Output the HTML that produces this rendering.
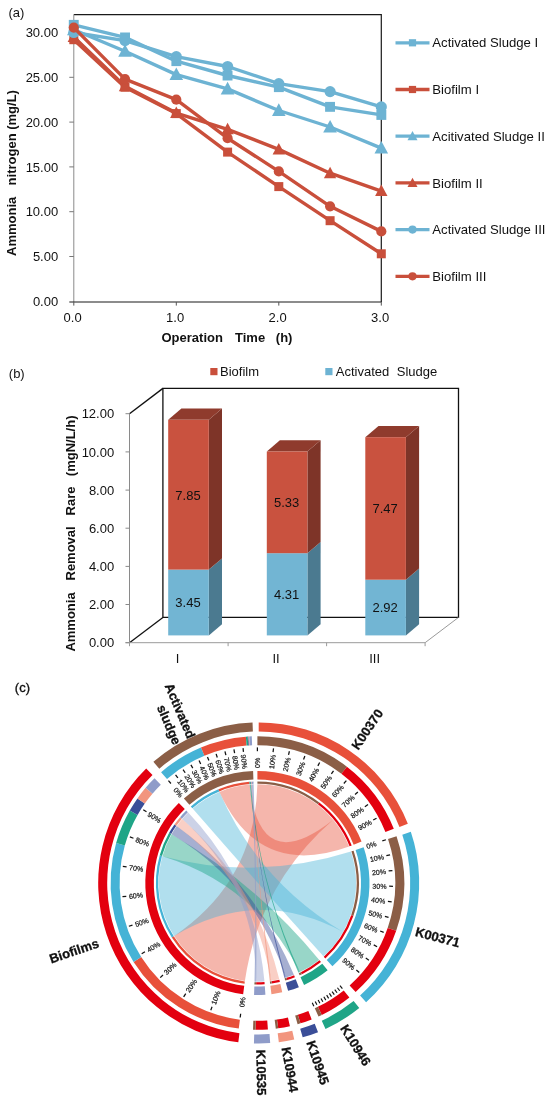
<!DOCTYPE html>
<html lang="en"><head><meta charset="utf-8"><title>Figure</title>
<style>
html,body{margin:0;padding:0;background:#fff}
svg{display:block}
svg text{font-family:"Liberation Sans", sans-serif;fill:#111}
</style></head><body>
<svg width="550" height="1101" viewBox="0 0 550 1101">
<rect width="550" height="1101" fill="#fff"/>
<g id="panel-a"><text x="8.5" y="17.3" font-size="13">(a)</text>
<path d="M73.8 14.6H381.3V302.0" fill="none" stroke="#1a1a1a" stroke-width="1.2"/>
<path d="M73.8 14.6V302.0" fill="none" stroke="#8a8a8a" stroke-width="1"/>
<path d="M69.3 302.0H381.3" fill="none" stroke="#1a1a1a" stroke-width="1.2"/>
<text x="58.2" y="305.9" font-size="13" text-anchor="end">0.00</text>
<path d="M69.3 256.5H73.8" stroke="#777" stroke-width="1"/>
<text x="58.2" y="261.1" font-size="13" text-anchor="end">5.00</text>
<path d="M69.3 211.7H73.8" stroke="#777" stroke-width="1"/>
<text x="58.2" y="216.3" font-size="13" text-anchor="end">10.00</text>
<path d="M69.3 166.9H73.8" stroke="#777" stroke-width="1"/>
<text x="58.2" y="171.5" font-size="13" text-anchor="end">15.00</text>
<path d="M69.3 122.1H73.8" stroke="#777" stroke-width="1"/>
<text x="58.2" y="126.7" font-size="13" text-anchor="end">20.00</text>
<path d="M69.3 77.3H73.8" stroke="#777" stroke-width="1"/>
<text x="58.2" y="81.9" font-size="13" text-anchor="end">25.00</text>
<path d="M69.3 32.5H73.8" stroke="#777" stroke-width="1"/>
<text x="58.2" y="37.1" font-size="13" text-anchor="end">30.00</text>
<path d="M73.8 302.0V305.6" stroke="#555" stroke-width="1"/>
<text x="72.6" y="322.3" font-size="13" text-anchor="middle">0.0</text>
<path d="M176.3 302.0V305.6" stroke="#555" stroke-width="1"/>
<text x="175.1" y="322.3" font-size="13" text-anchor="middle">1.0</text>
<path d="M278.8 302.0V305.6" stroke="#555" stroke-width="1"/>
<text x="277.6" y="322.3" font-size="13" text-anchor="middle">2.0</text>
<path d="M381.3 302.0V305.6" stroke="#555" stroke-width="1"/>
<text x="380.1" y="322.3" font-size="13" text-anchor="middle">3.0</text>
<g font-size="13" font-weight="bold"><text x="161.5" y="341.6">Operation</text><text x="235" y="341.6">Time</text><text x="275.8" y="341.6">(h)</text></g>
<g font-size="13" font-weight="bold" transform="translate(15.6 0) rotate(-90)"><text x="-256" y="0">Ammonia</text><text x="-185.4" y="0">nitrogen (mg/L)</text></g>
<polyline points="73.8,24.9 125.0,37.4 176.3,61.2 227.6,75.5 278.8,87.2 330.1,106.9 381.3,114.9" fill="none" stroke="#6db3d3" stroke-width="3.4" stroke-linejoin="round" stroke-linecap="round"/>
<rect x="68.8" y="19.9" width="9.9" height="9.9" fill="#6db3d3"/>
<rect x="120.1" y="32.5" width="9.9" height="9.9" fill="#6db3d3"/>
<rect x="171.4" y="56.2" width="9.9" height="9.9" fill="#6db3d3"/>
<rect x="222.6" y="70.6" width="9.9" height="9.9" fill="#6db3d3"/>
<rect x="273.9" y="82.2" width="9.9" height="9.9" fill="#6db3d3"/>
<rect x="325.1" y="101.9" width="9.9" height="9.9" fill="#6db3d3"/>
<rect x="376.4" y="110.0" width="9.9" height="9.9" fill="#6db3d3"/>
<path d="M395.5 42.8H429.5" stroke="#6db3d3" stroke-width="3.3"/>
<rect x="408.9" y="39.2" width="7.2" height="7.2" fill="#6db3d3"/>
<text x="432.3" y="47.4" font-size="13.15">Activated Sludge I</text>
<polyline points="73.8,39.7 125.0,87.2 176.3,113.6 227.6,152.1 278.8,186.6 330.1,220.7 381.3,253.8" fill="none" stroke="#c94f3b" stroke-width="3.4" stroke-linejoin="round" stroke-linecap="round"/>
<rect x="69.3" y="35.2" width="9.0" height="9.0" fill="#c94f3b"/>
<rect x="120.5" y="82.7" width="9.0" height="9.0" fill="#c94f3b"/>
<rect x="171.8" y="109.1" width="9.0" height="9.0" fill="#c94f3b"/>
<rect x="223.1" y="147.6" width="9.0" height="9.0" fill="#c94f3b"/>
<rect x="274.3" y="182.1" width="9.0" height="9.0" fill="#c94f3b"/>
<rect x="325.6" y="216.2" width="9.0" height="9.0" fill="#c94f3b"/>
<rect x="376.8" y="249.3" width="9.0" height="9.0" fill="#c94f3b"/>
<path d="M395.5 89.5H429.5" stroke="#c94f3b" stroke-width="3.3"/>
<rect x="408.9" y="85.9" width="7.2" height="7.2" fill="#c94f3b"/>
<text x="432.3" y="94.1" font-size="13.15">Biofilm I</text>
<polyline points="73.8,29.8 125.0,51.3 176.3,74.6 227.6,88.9 278.8,110.5 330.1,127.0 381.3,148.1" fill="none" stroke="#6db3d3" stroke-width="3.4" stroke-linejoin="round" stroke-linecap="round"/>
<path d="M73.8 22.7L80.6 35.3H67.0Z" fill="#6db3d3"/>
<path d="M125.0 44.2L131.9 56.8H118.2Z" fill="#6db3d3"/>
<path d="M176.3 67.5L183.1 80.1H169.5Z" fill="#6db3d3"/>
<path d="M227.6 81.8L234.4 94.4H220.7Z" fill="#6db3d3"/>
<path d="M278.8 103.3L285.6 116.0H272.0Z" fill="#6db3d3"/>
<path d="M330.1 119.9L336.9 132.5H323.2Z" fill="#6db3d3"/>
<path d="M381.3 140.9L388.1 153.6H374.5Z" fill="#6db3d3"/>
<path d="M395.5 136.2H429.5" stroke="#6db3d3" stroke-width="3.3"/>
<path d="M412.5 131.0L417.5 140.2H407.5Z" fill="#6db3d3"/>
<text x="432.3" y="140.8" font-size="13.15">Acitivated Sludge II</text>
<polyline points="73.8,37.0 125.0,86.3 176.3,113.1 227.6,129.3 278.8,149.4 330.1,173.2 381.3,191.1" fill="none" stroke="#c94f3b" stroke-width="3.4" stroke-linejoin="round" stroke-linecap="round"/>
<path d="M73.8 30.5L80.0 42.0H67.6Z" fill="#c94f3b"/>
<path d="M125.0 79.8L131.2 91.3H118.8Z" fill="#c94f3b"/>
<path d="M176.3 106.6L182.5 118.1H170.1Z" fill="#c94f3b"/>
<path d="M227.6 122.8L233.8 134.3H221.4Z" fill="#c94f3b"/>
<path d="M278.8 142.9L285.0 154.4H272.6Z" fill="#c94f3b"/>
<path d="M330.1 166.7L336.2 178.2H323.9Z" fill="#c94f3b"/>
<path d="M381.3 184.6L387.5 196.1H375.1Z" fill="#c94f3b"/>
<path d="M395.5 182.9H429.5" stroke="#c94f3b" stroke-width="3.3"/>
<path d="M412.5 177.7L417.5 186.9H407.5Z" fill="#c94f3b"/>
<text x="432.3" y="187.5" font-size="13.15">Biofilm II</text>
<polyline points="73.8,32.5 125.0,40.6 176.3,56.7 227.6,66.5 278.8,83.6 330.1,91.6 381.3,106.9" fill="none" stroke="#6db3d3" stroke-width="3.4" stroke-linejoin="round" stroke-linecap="round"/>
<circle cx="73.8" cy="32.5" r="5.6" fill="#6db3d3"/>
<circle cx="125.0" cy="40.6" r="5.6" fill="#6db3d3"/>
<circle cx="176.3" cy="56.7" r="5.6" fill="#6db3d3"/>
<circle cx="227.6" cy="66.5" r="5.6" fill="#6db3d3"/>
<circle cx="278.8" cy="83.6" r="5.6" fill="#6db3d3"/>
<circle cx="330.1" cy="91.6" r="5.6" fill="#6db3d3"/>
<circle cx="381.3" cy="106.9" r="5.6" fill="#6db3d3"/>
<path d="M395.5 229.6H429.5" stroke="#6db3d3" stroke-width="3.3"/>
<circle cx="412.5" cy="229.6" r="4.1" fill="#6db3d3"/>
<text x="432.3" y="234.2" font-size="13.15">Activated Sludge III</text>
<polyline points="73.8,27.6 125.0,79.1 176.3,99.7 227.6,138.2 278.8,171.4 330.1,206.3 381.3,231.4" fill="none" stroke="#c94f3b" stroke-width="3.4" stroke-linejoin="round" stroke-linecap="round"/>
<circle cx="73.8" cy="27.6" r="5.1" fill="#c94f3b"/>
<circle cx="125.0" cy="79.1" r="5.1" fill="#c94f3b"/>
<circle cx="176.3" cy="99.7" r="5.1" fill="#c94f3b"/>
<circle cx="227.6" cy="138.2" r="5.1" fill="#c94f3b"/>
<circle cx="278.8" cy="171.4" r="5.1" fill="#c94f3b"/>
<circle cx="330.1" cy="206.3" r="5.1" fill="#c94f3b"/>
<circle cx="381.3" cy="231.4" r="5.1" fill="#c94f3b"/>
<path d="M395.5 276.3H429.5" stroke="#c94f3b" stroke-width="3.3"/>
<circle cx="412.5" cy="276.3" r="4.1" fill="#c94f3b"/>
<text x="432.3" y="280.9" font-size="13.15">Biofilm III</text></g>
<g id="panel-b"><text x="8.8" y="378.2" font-size="13">(b)</text>
<rect x="210.3" y="368" width="7.2" height="7.2" fill="#c94f3b"/><text x="220" y="376.2" font-size="13">Biofilm</text>
<rect x="325.3" y="368" width="7.2" height="7.2" fill="#6db3d3"/><text x="335.8" y="376.2" font-size="13">Activated</text><text x="396.8" y="376.2" font-size="13">Sludge</text>
<path d="M162.9 617.4V388.4H458.5V617.4Z" fill="#fff" stroke="#111" stroke-width="1.3"/>
<path d="M129.5 413.7L162.9 388.4" stroke="#111" stroke-width="1.4" fill="none"/>
<path d="M129.5 642.7L162.9 617.4" stroke="#111" stroke-width="1.3" fill="none"/>
<path d="M129.5 413.7V642.7" stroke="#8a8a8a" stroke-width="1" fill="none"/>
<path d="M125.5 642.7H425.1L458.5 617.4" stroke="#9a9a9a" stroke-width="1" fill="none"/>
<path d="M125.5 642.7H129.5" stroke="#8a8a8a" stroke-width="1"/>
<text x="114.2" y="647.3" font-size="13" text-anchor="end">0.00</text>
<path d="M125.5 604.5H129.5" stroke="#8a8a8a" stroke-width="1"/>
<text x="114.2" y="609.1" font-size="13" text-anchor="end">2.00</text>
<path d="M125.5 566.4H129.5" stroke="#8a8a8a" stroke-width="1"/>
<text x="114.2" y="571.0" font-size="13" text-anchor="end">4.00</text>
<path d="M125.5 528.2H129.5" stroke="#8a8a8a" stroke-width="1"/>
<text x="114.2" y="532.8" font-size="13" text-anchor="end">6.00</text>
<path d="M125.5 490.1H129.5" stroke="#8a8a8a" stroke-width="1"/>
<text x="114.2" y="494.7" font-size="13" text-anchor="end">8.00</text>
<path d="M125.5 451.9H129.5" stroke="#8a8a8a" stroke-width="1"/>
<text x="114.2" y="456.5" font-size="13" text-anchor="end">10.00</text>
<path d="M125.5 413.7H129.5" stroke="#8a8a8a" stroke-width="1"/>
<text x="114.2" y="418.3" font-size="13" text-anchor="end">12.00</text>
<path d="M129.5 642.7V646.2" stroke="#9a9a9a" stroke-width="1"/>
<path d="M228.1 642.7V646.2" stroke="#9a9a9a" stroke-width="1"/>
<path d="M326.6 642.7V646.2" stroke="#9a9a9a" stroke-width="1"/>
<path d="M425.1 642.7V646.2" stroke="#9a9a9a" stroke-width="1"/>
<text x="177.5" y="663" font-size="13" text-anchor="middle">I</text>
<text x="276.0" y="663" font-size="13" text-anchor="middle">II</text>
<text x="374.6" y="663" font-size="13" text-anchor="middle">III</text>
<g font-size="13" font-weight="bold" transform="translate(75.2 0) rotate(-90)"><text x="-651.6" y="0">Ammonia</text><text x="-580.5" y="0">Removal</text><text x="-515.4" y="0">Rare</text><text x="-476.2" y="0">(mgN/L/h)</text></g>
<path d="M208.8 635.4L222.0 624.2V558.4L208.8 569.6Z" fill="#4b7a90"/>
<path d="M208.8 569.6L222.0 558.4V408.6L208.8 419.8Z" fill="#7e3428"/>
<path d="M168.2 419.8L181.4 408.6H222.0L208.8 419.8Z" fill="#8f3b2d"/>
<rect x="168.2" y="569.6" width="40.6" height="65.8" fill="#72b5d3"/>
<rect x="168.2" y="419.8" width="40.6" height="149.8" fill="#c9523f"/>
<text x="188.0" y="607.3" font-size="13" text-anchor="middle" fill="#1a1a1a">3.45</text>
<text x="188.0" y="499.5" font-size="13" text-anchor="middle" fill="#1a1a1a">7.85</text>
<path d="M307.4 635.4L320.6 624.2V542.0L307.4 553.2Z" fill="#4b7a90"/>
<path d="M307.4 553.2L320.6 542.0V440.3L307.4 451.5Z" fill="#7e3428"/>
<path d="M266.8 451.5L279.9 440.3H320.6L307.4 451.5Z" fill="#8f3b2d"/>
<rect x="266.8" y="553.2" width="40.6" height="82.2" fill="#72b5d3"/>
<rect x="266.8" y="451.5" width="40.6" height="101.7" fill="#c9523f"/>
<text x="286.6" y="599.1" font-size="13" text-anchor="middle" fill="#1a1a1a">4.31</text>
<text x="286.6" y="507.1" font-size="13" text-anchor="middle" fill="#1a1a1a">5.33</text>
<path d="M405.9 635.4L419.1 624.2V568.5L405.9 579.7Z" fill="#4b7a90"/>
<path d="M405.9 579.7L419.1 568.5V426.0L405.9 437.2Z" fill="#7e3428"/>
<path d="M365.3 437.2L378.5 426.0H419.1L405.9 437.2Z" fill="#8f3b2d"/>
<rect x="365.3" y="579.7" width="40.6" height="55.7" fill="#72b5d3"/>
<rect x="365.3" y="437.2" width="40.6" height="142.5" fill="#c9523f"/>
<text x="385.1" y="612.3" font-size="13" text-anchor="middle" fill="#1a1a1a">2.92</text>
<text x="385.1" y="513.2" font-size="13" text-anchor="middle" fill="#1a1a1a">7.47</text></g>
<g id="panel-c"><text x="14.8" y="691.5" font-size="13" stroke="#111" stroke-width="0.35">(c)</text>
<path d="M257.40 784.30A98.7 98.7 0 0 1 333.23 819.82Q259.30 884.04 244.86 980.90A98.7 98.7 0 0 1 174.16 936.03Q254.90 881.63 257.40 784.30Z" fill="#e8503a" fill-opacity="0.42"/>
<path d="M350.94 851.52A98.7 98.7 0 0 1 343.13 931.90Q257.47 886.06 174.16 936.03A98.7 98.7 0 0 1 162.43 856.13Q257.36 881.25 350.94 851.52Z" fill="#45b3d6" fill-opacity="0.42"/>
<path d="M343.13 931.90A98.7 98.7 0 0 1 323.44 956.35Q257.44 882.97 192.65 808.51A98.7 98.7 0 0 1 219.47 791.88Q258.83 881.73 343.13 931.90Z" fill="#45b3d6" fill-opacity="0.42"/>
<path d="M333.23 819.82A98.7 98.7 0 0 1 349.11 846.51Q259.01 879.17 219.47 791.88A98.7 98.7 0 0 1 249.66 784.60Q259.44 878.15 333.23 819.82Z" fill="#e8503a" fill-opacity="0.42"/>
<path d="M319.25 959.92A98.7 98.7 0 0 1 299.89 972.09Q255.83 884.87 162.43 856.13A98.7 98.7 0 0 1 171.58 834.25Q256.68 883.85 319.25 959.92Z" fill="#1fa587" fill-opacity="0.46"/>
<path d="M293.89 974.71A98.7 98.7 0 0 1 285.76 977.54Q255.68 884.37 171.58 834.25A98.7 98.7 0 0 1 176.75 826.11Q256.08 884.04 293.89 974.71Z" fill="#3a4e98" fill-opacity="0.45"/>
<path d="M279.27 979.25A98.7 98.7 0 0 1 271.14 980.74Q255.39 884.23 176.75 826.11A98.7 98.7 0 0 1 182.24 819.03Q255.80 883.97 279.27 979.25Z" fill="#f2957e" fill-opacity="0.45"/>
<path d="M264.46 981.45A98.7 98.7 0 0 1 256.19 981.69Q255.11 884.04 182.24 819.03A98.7 98.7 0 0 1 188.22 812.60Q255.54 883.84 264.46 981.45Z" fill="#8f9cc9" fill-opacity="0.45"/>
<path d="M299.89 972.09A98.7 98.7 0 0 1 298.49 972.74Q258.40 882.74 249.66 784.60A98.7 98.7 0 0 1 250.86 784.52Q258.48 882.72 299.89 972.09Z" fill="#1fa587" fill-opacity="0.7"/>
<path d="M285.76 977.54A98.7 98.7 0 0 1 284.44 977.92Q258.01 882.89 250.86 784.52A98.7 98.7 0 0 1 251.37 784.48Q258.07 882.88 285.76 977.54Z" fill="#3a4e98" fill-opacity="0.7"/>
<path d="M271.14 980.74A98.7 98.7 0 0 1 269.77 980.92Q257.59 882.98 251.37 784.48A98.7 98.7 0 0 1 251.89 784.45Q257.65 882.98 271.14 980.74Z" fill="#f2957e" fill-opacity="0.7"/>
<path d="M256.19 981.69A98.7 98.7 0 0 1 254.47 981.66Q257.15 883.00 251.89 784.45A98.7 98.7 0 0 1 253.61 784.37Q257.25 883.00 256.19 981.69Z" fill="#8f9cc9" fill-opacity="0.7"/>
<path d="M258.70 722.50A160.5 160.5 0 0 1 407.83 823.66L399.46 826.98A151.5 151.5 0 0 0 258.70 731.50Z" fill="#e8503a" />
<path d="M257.40 770.90A112.1 112.1 0 0 1 361.56 841.55L353.66 844.69A103.6 103.6 0 0 0 257.40 779.40Z" fill="#e8503a" />
<path d="M410.82 831.81A160.5 160.5 0 0 1 366.10 1002.27L360.07 995.59A151.5 151.5 0 0 0 402.29 834.68Z" fill="#45b3d6" />
<path d="M363.64 847.24A112.1 112.1 0 0 1 332.41 966.31L326.72 959.99A103.6 103.6 0 0 0 355.59 849.96Z" fill="#45b3d6" />
<path d="M359.27 1008.08A160.5 160.5 0 0 1 325.51 1028.93L321.77 1020.75A151.5 151.5 0 0 0 353.63 1001.07Z" fill="#1fa587" />
<path d="M327.64 970.36A112.1 112.1 0 0 1 304.07 984.93L300.53 977.20A103.6 103.6 0 0 0 322.32 963.74Z" fill="#1fa587" />
<path d="M318.04 1032.13A160.5 160.5 0 0 1 302.67 1037.36L300.20 1028.70A151.5 151.5 0 0 0 314.72 1023.76Z" fill="#3a4e98" />
<path d="M298.85 987.16A112.1 112.1 0 0 1 288.11 990.81L285.78 982.64A103.6 103.6 0 0 0 295.71 979.26Z" fill="#3a4e98" />
<path d="M294.26 1039.51A160.5 160.5 0 0 1 278.82 1042.23L277.69 1033.31A151.5 151.5 0 0 0 292.26 1030.74Z" fill="#f2957e" />
<path d="M282.24 992.31A112.1 112.1 0 0 1 271.45 994.22L270.38 985.78A103.6 103.6 0 0 0 280.35 984.03Z" fill="#f2957e" />
<path d="M270.18 1043.09A160.5 160.5 0 0 1 253.94 1043.43L254.21 1034.43A151.5 151.5 0 0 0 269.53 1034.11Z" fill="#8f9cc9" />
<path d="M265.41 994.81A112.1 112.1 0 0 1 254.07 995.05L254.33 986.55A103.6 103.6 0 0 0 264.81 986.33Z" fill="#8f9cc9" />
<path d="M238.31 1042.20A160.5 160.5 0 0 1 146.20 768.52L152.51 774.94A151.5 151.5 0 0 0 239.45 1033.27Z" fill="#e3000f" />
<path d="M243.16 994.19A112.1 112.1 0 0 1 178.83 803.04L184.79 809.11A103.6 103.6 0 0 0 244.24 985.76Z" fill="#e3000f" />
<path d="M153.40 761.87A160.5 160.5 0 0 1 252.54 722.62L252.88 731.61A151.5 151.5 0 0 0 159.31 768.66Z" fill="#8b5e46" />
<path d="M183.86 798.40A112.1 112.1 0 0 1 253.10 770.98L253.42 779.48A103.6 103.6 0 0 0 189.43 804.81Z" fill="#8b5e46" />
<path d="M257.40 736.20A146.8 146.8 0 0 1 346.90 766.64L341.41 773.77A137.8 137.8 0 0 0 257.40 745.20Z" fill="#8b5e46" />
<path d="M257.40 781.50A101.5 101.5 0 0 1 319.28 802.54L317.88 804.37A99.2 99.2 0 0 0 257.40 783.80Z" fill="#8b5e46" />
<path d="M346.90 766.64A146.8 146.8 0 0 1 393.80 828.72L385.43 832.05A137.8 137.8 0 0 0 341.41 773.77Z" fill="#e3000f" />
<path d="M319.28 802.54A101.5 101.5 0 0 1 351.71 845.47L349.57 846.32A99.2 99.2 0 0 0 317.88 804.37Z" fill="#e3000f" />
<path d="M396.53 836.18A146.8 146.8 0 0 1 396.18 930.86L387.67 927.93A137.8 137.8 0 0 0 388.00 839.05Z" fill="#8b5e46" />
<path d="M353.60 850.63A101.5 101.5 0 0 1 353.35 916.09L351.18 915.34A99.2 99.2 0 0 0 351.42 851.36Z" fill="#8b5e46" />
<path d="M396.18 930.86A146.8 146.8 0 0 1 355.63 992.09L349.61 985.41A137.8 137.8 0 0 0 387.67 927.93Z" fill="#e3000f" />
<path d="M353.35 916.09A101.5 101.5 0 0 1 325.32 958.43L323.78 956.72A99.2 99.2 0 0 0 351.18 915.34Z" fill="#e3000f" />
<path d="M349.39 997.41A146.8 146.8 0 0 1 321.80 1014.92L317.85 1006.83A137.8 137.8 0 0 0 343.75 990.39Z" fill="#e3000f" />
<path d="M321.00 962.10A101.5 101.5 0 0 1 301.93 974.21L300.92 972.15A99.2 99.2 0 0 0 319.56 960.31Z" fill="#e3000f" />
<path d="M321.80 1014.92A146.8 146.8 0 0 1 318.51 1016.48L314.76 1008.29A137.8 137.8 0 0 0 317.85 1006.83Z" fill="#8b5e46" />
<path d="M301.93 974.21A101.5 101.5 0 0 1 299.65 975.29L298.70 973.20A99.2 99.2 0 0 0 300.92 972.15Z" fill="#8b5e46" />
<path d="M311.68 1019.40A146.8 146.8 0 0 1 300.47 1023.34L297.83 1014.74A137.8 137.8 0 0 0 308.35 1011.03Z" fill="#e3000f" />
<path d="M294.93 977.31A101.5 101.5 0 0 1 287.18 980.03L286.50 977.84A99.2 99.2 0 0 0 294.08 975.17Z" fill="#e3000f" />
<path d="M300.47 1023.34A146.8 146.8 0 0 1 297.62 1024.18L295.15 1015.53A137.8 137.8 0 0 0 297.83 1014.74Z" fill="#8b5e46" />
<path d="M287.18 980.03A101.5 101.5 0 0 1 285.21 980.62L284.58 978.40A99.2 99.2 0 0 0 286.50 977.84Z" fill="#8b5e46" />
<path d="M289.92 1026.15A146.8 146.8 0 0 1 278.22 1028.32L276.94 1019.41A137.8 137.8 0 0 0 287.93 1017.38Z" fill="#e3000f" />
<path d="M279.89 981.98A101.5 101.5 0 0 1 271.79 983.47L271.47 981.20A99.2 99.2 0 0 0 279.38 979.73Z" fill="#e3000f" />
<path d="M278.22 1028.32A146.8 146.8 0 0 1 275.80 1028.64L274.67 1019.71A137.8 137.8 0 0 0 276.94 1019.41Z" fill="#8b5e46" />
<path d="M271.79 983.47A101.5 101.5 0 0 1 270.12 983.70L269.83 981.42A99.2 99.2 0 0 0 271.47 981.20Z" fill="#8b5e46" />
<path d="M267.90 1029.42A146.8 146.8 0 0 1 255.57 1029.79L255.68 1020.79A137.8 137.8 0 0 0 267.25 1020.45Z" fill="#e3000f" />
<path d="M264.66 984.24A101.5 101.5 0 0 1 256.14 984.49L256.16 982.19A99.2 99.2 0 0 0 264.49 981.95Z" fill="#e3000f" />
<path d="M255.57 1029.79A146.8 146.8 0 0 1 253.04 1029.74L253.31 1020.74A137.8 137.8 0 0 0 255.68 1020.79Z" fill="#8b5e46" />
<path d="M256.14 984.49A101.5 101.5 0 0 1 254.39 984.46L254.46 982.16A99.2 99.2 0 0 0 256.16 982.19Z" fill="#8b5e46" />
<path d="M238.75 1028.61A146.8 146.8 0 0 1 133.59 961.88L141.18 957.04A137.8 137.8 0 0 0 239.89 1019.68Z" fill="#e8503a" />
<path d="M244.50 983.68A101.5 101.5 0 0 1 171.80 937.54L173.74 936.30A99.2 99.2 0 0 0 244.80 981.40Z" fill="#e8503a" />
<path d="M133.59 961.88A146.8 146.8 0 0 1 116.15 843.03L124.81 845.48A137.8 137.8 0 0 0 141.18 957.04Z" fill="#45b3d6" />
<path d="M171.80 937.54A101.5 101.5 0 0 1 159.73 855.36L161.95 855.99A99.2 99.2 0 0 0 173.74 936.30Z" fill="#45b3d6" />
<path d="M116.15 843.03A146.8 146.8 0 0 1 129.76 810.49L137.58 814.93A137.8 137.8 0 0 0 124.81 845.48Z" fill="#1fa587" />
<path d="M159.73 855.36A101.5 101.5 0 0 1 169.15 832.86L171.15 834.00A99.2 99.2 0 0 0 161.95 855.99Z" fill="#1fa587" />
<path d="M129.76 810.49A146.8 146.8 0 0 1 137.44 798.38L144.80 803.57A137.8 137.8 0 0 0 137.58 814.93Z" fill="#3a4e98" />
<path d="M169.15 832.86A101.5 101.5 0 0 1 174.46 824.49L176.34 825.82A99.2 99.2 0 0 0 171.15 834.00Z" fill="#3a4e98" />
<path d="M137.44 798.38A146.8 146.8 0 0 1 145.61 787.86L152.46 793.69A137.8 137.8 0 0 0 144.80 803.57Z" fill="#f2957e" />
<path d="M174.46 824.49A101.5 101.5 0 0 1 180.10 817.22L181.86 818.71A99.2 99.2 0 0 0 176.34 825.82Z" fill="#f2957e" />
<path d="M145.61 787.86A146.8 146.8 0 0 1 154.51 778.29L160.81 784.71A137.8 137.8 0 0 0 152.46 793.69Z" fill="#8f9cc9" />
<path d="M180.10 817.22A101.5 101.5 0 0 1 186.26 810.61L187.87 812.25A99.2 99.2 0 0 0 181.86 818.71Z" fill="#8f9cc9" />
<path d="M161.09 772.21A146.8 146.8 0 0 1 200.99 747.47L204.44 755.78A137.8 137.8 0 0 0 167.00 779.00Z" fill="#45b3d6" />
<path d="M190.81 806.40A101.5 101.5 0 0 1 218.39 789.29L219.28 791.42A99.2 99.2 0 0 0 192.32 808.13Z" fill="#45b3d6" />
<path d="M200.99 747.47A146.8 146.8 0 0 1 245.88 736.65L246.59 745.62A137.8 137.8 0 0 0 204.44 755.78Z" fill="#e8503a" />
<path d="M218.39 789.29A101.5 101.5 0 0 1 249.44 781.81L249.62 784.11A99.2 99.2 0 0 0 219.28 791.42Z" fill="#e8503a" />
<path d="M245.88 736.65A146.8 146.8 0 0 1 247.67 736.52L248.27 745.50A137.8 137.8 0 0 0 246.59 745.62Z" fill="#1fa587" />
<path d="M249.44 781.81A101.5 101.5 0 0 1 250.67 781.72L250.83 784.02A99.2 99.2 0 0 0 249.62 784.11Z" fill="#1fa587" />
<path d="M247.67 736.52A146.8 146.8 0 0 1 248.44 736.47L248.99 745.46A137.8 137.8 0 0 0 248.27 745.50Z" fill="#3a4e98" />
<path d="M250.67 781.72A101.5 101.5 0 0 1 251.20 781.69L251.34 783.99A99.2 99.2 0 0 0 250.83 784.02Z" fill="#3a4e98" />
<path d="M248.44 736.47A146.8 146.8 0 0 1 249.21 736.43L249.71 745.41A137.8 137.8 0 0 0 248.99 745.46Z" fill="#f2957e" />
<path d="M251.20 781.69A101.5 101.5 0 0 1 251.73 781.66L251.86 783.95A99.2 99.2 0 0 0 251.34 783.99Z" fill="#f2957e" />
<path d="M249.21 736.43A146.8 146.8 0 0 1 251.76 736.31L252.11 745.30A137.8 137.8 0 0 0 249.71 745.41Z" fill="#8f9cc9" />
<path d="M251.73 781.66A101.5 101.5 0 0 1 253.50 781.57L253.59 783.87A99.2 99.2 0 0 0 251.86 783.95Z" fill="#8f9cc9" />
<path d="M257.40 751.20L257.40 747.40" stroke="#111" stroke-width="1.25"/>
<text transform="translate(257.40 768.00) rotate(-90.00)" x="0" y="2.9" font-size="7.1" text-anchor="start" fill="#1a1a1a" stroke="#1a1a1a" stroke-width="0.2">0%</text>
<path d="M273.07 752.14L273.53 748.36" stroke="#111" stroke-width="1.25"/>
<text transform="translate(271.08 768.82) rotate(-83.17)" x="0" y="2.9" font-size="7.1" text-anchor="start" fill="#1a1a1a" stroke="#1a1a1a" stroke-width="0.2">10%</text>
<path d="M288.53 754.93L289.42 751.24" stroke="#111" stroke-width="1.25"/>
<text transform="translate(284.56 771.25) rotate(-76.34)" x="0" y="2.9" font-size="7.1" text-anchor="start" fill="#1a1a1a" stroke="#1a1a1a" stroke-width="0.2">20%</text>
<path d="M303.54 759.54L304.87 755.98" stroke="#111" stroke-width="1.25"/>
<text transform="translate(297.66 775.28) rotate(-69.51)" x="0" y="2.9" font-size="7.1" text-anchor="start" fill="#1a1a1a" stroke="#1a1a1a" stroke-width="0.2">30%</text>
<path d="M317.89 765.90L319.63 762.53" stroke="#111" stroke-width="1.25"/>
<text transform="translate(310.18 780.83) rotate(-62.68)" x="0" y="2.9" font-size="7.1" text-anchor="start" fill="#1a1a1a" stroke="#1a1a1a" stroke-width="0.2">40%</text>
<path d="M331.39 773.93L333.52 770.78" stroke="#111" stroke-width="1.25"/>
<text transform="translate(321.96 787.83) rotate(-55.85)" x="0" y="2.9" font-size="7.1" text-anchor="start" fill="#1a1a1a" stroke="#1a1a1a" stroke-width="0.2">50%</text>
<path d="M343.83 783.50L346.33 780.63" stroke="#111" stroke-width="1.25"/>
<text transform="translate(332.82 796.18) rotate(-49.02)" x="0" y="2.9" font-size="7.1" text-anchor="start" fill="#1a1a1a" stroke="#1a1a1a" stroke-width="0.2">60%</text>
<path d="M355.05 794.48L357.87 791.93" stroke="#111" stroke-width="1.25"/>
<text transform="translate(342.61 805.77) rotate(-42.19)" x="0" y="2.9" font-size="7.1" text-anchor="start" fill="#1a1a1a" stroke="#1a1a1a" stroke-width="0.2">70%</text>
<path d="M364.89 806.73L367.99 804.53" stroke="#111" stroke-width="1.25"/>
<text transform="translate(351.19 816.45) rotate(-35.36)" x="0" y="2.9" font-size="7.1" text-anchor="start" fill="#1a1a1a" stroke="#1a1a1a" stroke-width="0.2">80%</text>
<path d="M373.20 820.05L376.53 818.23" stroke="#111" stroke-width="1.25"/>
<text transform="translate(358.44 828.07) rotate(-28.53)" x="0" y="2.9" font-size="7.1" text-anchor="start" fill="#1a1a1a" stroke="#1a1a1a" stroke-width="0.2">90%</text>
<path d="M382.32 840.96L385.92 839.75" stroke="#111" stroke-width="1.25"/>
<text transform="translate(366.39 846.32) rotate(-18.60)" x="0" y="2.9" font-size="7.1" text-anchor="start" fill="#1a1a1a" stroke="#1a1a1a" stroke-width="0.2">0%</text>
<path d="M386.35 855.73L390.07 854.95" stroke="#111" stroke-width="1.25"/>
<text transform="translate(369.91 859.21) rotate(-11.94)" x="0" y="2.9" font-size="7.1" text-anchor="start" fill="#1a1a1a" stroke="#1a1a1a" stroke-width="0.2">10%</text>
<path d="M388.64 870.87L392.42 870.52" stroke="#111" stroke-width="1.25"/>
<text transform="translate(371.91 872.42) rotate(-5.28)" x="0" y="2.9" font-size="7.1" text-anchor="start" fill="#1a1a1a" stroke="#1a1a1a" stroke-width="0.2">20%</text>
<path d="M389.16 886.17L392.96 886.27" stroke="#111" stroke-width="1.25"/>
<text transform="translate(372.37 885.77) rotate(1.38)" x="0" y="2.9" font-size="7.1" text-anchor="start" fill="#1a1a1a" stroke="#1a1a1a" stroke-width="0.2">30%</text>
<path d="M387.90 901.43L391.67 901.97" stroke="#111" stroke-width="1.25"/>
<text transform="translate(371.27 899.08) rotate(8.04)" x="0" y="2.9" font-size="7.1" text-anchor="start" fill="#1a1a1a" stroke="#1a1a1a" stroke-width="0.2">40%</text>
<path d="M384.89 916.45L388.56 917.41" stroke="#111" stroke-width="1.25"/>
<text transform="translate(368.64 912.18) rotate(14.70)" x="0" y="2.9" font-size="7.1" text-anchor="start" fill="#1a1a1a" stroke="#1a1a1a" stroke-width="0.2">50%</text>
<path d="M380.15 931.01L383.69 932.39" stroke="#111" stroke-width="1.25"/>
<text transform="translate(364.50 924.89) rotate(21.36)" x="0" y="2.9" font-size="7.1" text-anchor="start" fill="#1a1a1a" stroke="#1a1a1a" stroke-width="0.2">60%</text>
<path d="M373.75 944.92L377.11 946.70" stroke="#111" stroke-width="1.25"/>
<text transform="translate(358.92 937.02) rotate(28.02)" x="0" y="2.9" font-size="7.1" text-anchor="start" fill="#1a1a1a" stroke="#1a1a1a" stroke-width="0.2">70%</text>
<path d="M365.78 957.99L368.91 960.16" stroke="#111" stroke-width="1.25"/>
<text transform="translate(351.97 948.43) rotate(34.68)" x="0" y="2.9" font-size="7.1" text-anchor="start" fill="#1a1a1a" stroke="#1a1a1a" stroke-width="0.2">80%</text>
<path d="M356.36 970.06L359.21 972.57" stroke="#111" stroke-width="1.25"/>
<text transform="translate(343.74 958.96) rotate(41.34)" x="0" y="2.9" font-size="7.1" text-anchor="start" fill="#1a1a1a" stroke="#1a1a1a" stroke-width="0.2">90%</text>
<path d="M240.65 1013.73L240.17 1017.50" stroke="#111" stroke-width="1.25"/>
<text transform="translate(242.79 997.07) rotate(-82.70)" x="0" y="2.9" font-size="7.1" text-anchor="end" fill="#1a1a1a" stroke="#1a1a1a" stroke-width="0.2">0%</text>
<path d="M212.06 1006.76L210.76 1010.32" stroke="#111" stroke-width="1.25"/>
<text transform="translate(217.84 990.98) rotate(-69.88)" x="0" y="2.9" font-size="7.1" text-anchor="end" fill="#1a1a1a" stroke="#1a1a1a" stroke-width="0.2">10%</text>
<path d="M185.73 993.61L183.67 996.80" stroke="#111" stroke-width="1.25"/>
<text transform="translate(194.87 979.51) rotate(-57.06)" x="0" y="2.9" font-size="7.1" text-anchor="end" fill="#1a1a1a" stroke="#1a1a1a" stroke-width="0.2">20%</text>
<path d="M162.98 974.95L160.25 977.60" stroke="#111" stroke-width="1.25"/>
<text transform="translate(175.01 963.23) rotate(-44.24)" x="0" y="2.9" font-size="7.1" text-anchor="end" fill="#1a1a1a" stroke="#1a1a1a" stroke-width="0.2">30%</text>
<path d="M144.93 951.71L141.68 953.69" stroke="#111" stroke-width="1.25"/>
<text transform="translate(159.26 942.95) rotate(-31.42)" x="0" y="2.9" font-size="7.1" text-anchor="end" fill="#1a1a1a" stroke="#1a1a1a" stroke-width="0.2">40%</text>
<path d="M132.48 925.04L128.88 926.25" stroke="#111" stroke-width="1.25"/>
<text transform="translate(148.41 919.68) rotate(-18.60)" x="0" y="2.9" font-size="7.1" text-anchor="end" fill="#1a1a1a" stroke="#1a1a1a" stroke-width="0.2">50%</text>
<path d="M126.27 896.27L122.49 896.66" stroke="#111" stroke-width="1.25"/>
<text transform="translate(142.98 894.58) rotate(-5.78)" x="0" y="2.9" font-size="7.1" text-anchor="end" fill="#1a1a1a" stroke="#1a1a1a" stroke-width="0.2">60%</text>
<path d="M126.59 866.85L122.82 866.38" stroke="#111" stroke-width="1.25"/>
<text transform="translate(143.27 868.91) rotate(7.04)" x="0" y="2.9" font-size="7.1" text-anchor="end" fill="#1a1a1a" stroke="#1a1a1a" stroke-width="0.2">70%</text>
<path d="M133.44 838.22L129.86 836.93" stroke="#111" stroke-width="1.25"/>
<text transform="translate(149.24 843.93) rotate(19.86)" x="0" y="2.9" font-size="7.1" text-anchor="end" fill="#1a1a1a" stroke="#1a1a1a" stroke-width="0.2">80%</text>
<path d="M146.46 811.84L143.27 809.78" stroke="#111" stroke-width="1.25"/>
<text transform="translate(160.60 820.91) rotate(32.68)" x="0" y="2.9" font-size="7.1" text-anchor="end" fill="#1a1a1a" stroke="#1a1a1a" stroke-width="0.2">90%</text>
<path d="M170.93 783.53L168.44 780.66" stroke="#111" stroke-width="1.25"/>
<text transform="translate(181.95 796.21) rotate(49.00)" x="0" y="2.9" font-size="7.1" text-anchor="end" fill="#1a1a1a" stroke="#1a1a1a" stroke-width="0.2">0%</text>
<path d="M177.86 777.91L175.57 774.88" stroke="#111" stroke-width="1.25"/>
<text transform="translate(188.00 791.30) rotate(52.88)" x="0" y="2.9" font-size="7.1" text-anchor="end" fill="#1a1a1a" stroke="#1a1a1a" stroke-width="0.2">10%</text>
<path d="M185.15 772.76L183.07 769.59" stroke="#111" stroke-width="1.25"/>
<text transform="translate(194.36 786.82) rotate(56.76)" x="0" y="2.9" font-size="7.1" text-anchor="end" fill="#1a1a1a" stroke="#1a1a1a" stroke-width="0.2">20%</text>
<path d="M192.78 768.13L190.92 764.82" stroke="#111" stroke-width="1.25"/>
<text transform="translate(201.02 782.77) rotate(60.64)" x="0" y="2.9" font-size="7.1" text-anchor="end" fill="#1a1a1a" stroke="#1a1a1a" stroke-width="0.2">30%</text>
<path d="M200.70 764.02L199.07 760.59" stroke="#111" stroke-width="1.25"/>
<text transform="translate(207.93 779.19) rotate(64.52)" x="0" y="2.9" font-size="7.1" text-anchor="end" fill="#1a1a1a" stroke="#1a1a1a" stroke-width="0.2">40%</text>
<path d="M208.88 760.46L207.48 756.92" stroke="#111" stroke-width="1.25"/>
<text transform="translate(215.07 776.08) rotate(68.40)" x="0" y="2.9" font-size="7.1" text-anchor="end" fill="#1a1a1a" stroke="#1a1a1a" stroke-width="0.2">50%</text>
<path d="M217.28 757.45L216.13 753.83" stroke="#111" stroke-width="1.25"/>
<text transform="translate(222.40 773.46) rotate(72.28)" x="0" y="2.9" font-size="7.1" text-anchor="end" fill="#1a1a1a" stroke="#1a1a1a" stroke-width="0.2">60%</text>
<path d="M225.87 755.03L224.96 751.34" stroke="#111" stroke-width="1.25"/>
<text transform="translate(229.89 771.34) rotate(76.16)" x="0" y="2.9" font-size="7.1" text-anchor="end" fill="#1a1a1a" stroke="#1a1a1a" stroke-width="0.2">70%</text>
<path d="M234.60 753.19L233.95 749.44" stroke="#111" stroke-width="1.25"/>
<text transform="translate(237.51 769.73) rotate(80.04)" x="0" y="2.9" font-size="7.1" text-anchor="end" fill="#1a1a1a" stroke="#1a1a1a" stroke-width="0.2">80%</text>
<path d="M243.44 751.94L243.04 748.16" stroke="#111" stroke-width="1.25"/>
<text transform="translate(245.22 768.65) rotate(83.92)" x="0" y="2.9" font-size="7.1" text-anchor="end" fill="#1a1a1a" stroke="#1a1a1a" stroke-width="0.2">90%</text>
<path d="M339.99 985.72L342.37 988.68" stroke="#111" stroke-width="1.15"/>
<path d="M337.42 987.73L339.72 990.75" stroke="#111" stroke-width="1.15"/>
<path d="M334.80 989.68L337.03 992.76" stroke="#111" stroke-width="1.15"/>
<path d="M332.13 991.57L334.28 994.70" stroke="#111" stroke-width="1.15"/>
<path d="M329.41 993.39L331.49 996.57" stroke="#111" stroke-width="1.15"/>
<path d="M326.66 995.14L328.65 998.37" stroke="#111" stroke-width="1.15"/>
<path d="M323.86 996.82L325.77 1000.10" stroke="#111" stroke-width="1.15"/>
<path d="M321.02 998.43L322.85 1001.76" stroke="#111" stroke-width="1.15"/>
<path d="M318.14 999.97L319.89 1003.34" stroke="#111" stroke-width="1.15"/>
<path d="M315.22 1001.44L316.89 1004.86" stroke="#111" stroke-width="1.15"/>
<path d="M312.27 1002.84L313.85 1006.29" stroke="#111" stroke-width="1.15"/>
<text transform="translate(350.59 745.62) rotate(-55.85)" x="0" y="9.1" font-size="13" font-weight="bold" text-anchor="start" stroke="#111" stroke-width="0.3">K00370</text>
<text transform="translate(417.29 924.95) rotate(14.70)" x="0" y="11.2" font-size="13" font-weight="bold" text-anchor="start" stroke="#111" stroke-width="0.3">K00371</text>
<text transform="translate(345.05 1024.92) rotate(58.30)" x="0" y="6.2" font-size="13" font-weight="bold" text-anchor="start" stroke="#111" stroke-width="0.3">K10946</text>
<text transform="translate(311.15 1040.90) rotate(71.20)" x="0" y="5.2" font-size="13" font-weight="bold" text-anchor="start" stroke="#111" stroke-width="0.3">K10945</text>
<text transform="translate(286.36 1047.27) rotate(80.00)" x="0" y="4.8" font-size="13" font-weight="bold" text-anchor="start" stroke="#111" stroke-width="0.3">K10944</text>
<text transform="translate(260.89 1049.76) rotate(88.80)" x="0" y="4.6" font-size="13" font-weight="bold" text-anchor="start" stroke="#111" stroke-width="0.3">K10535</text>
<text transform="translate(96.47 937.16) rotate(-18.60)" x="0" y="10.4" font-size="13" font-weight="bold" text-anchor="end" stroke="#111" stroke-width="0.3">Biofilms</text>
<g transform="translate(187.5 739.6) rotate(66.8)" font-size="13" font-weight="bold" text-anchor="end" stroke="#111" stroke-width="0.3"><text x="0" y="0">Activated</text><text x="0" y="15.6">sludge</text></g></g>
</svg>
</body></html>
